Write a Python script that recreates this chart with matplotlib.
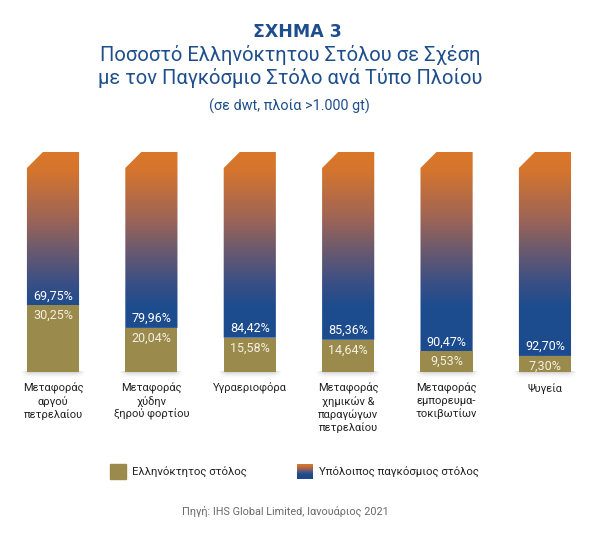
import numpy as np
import matplotlib
matplotlib.use("Agg")
import matplotlib.pyplot as plt
from matplotlib.colors import LinearSegmentedColormap
from matplotlib.patches import Polygon, Rectangle

plt.rcParams['font.family'] = ['Roboto', 'DejaVu Sans']

# data
categories = ['Μεταφοράς\nαργού\nπετρελαίου', 'Μεταφοράς\nχύδην\nξηρού φορτίου', 'Υγραεριοφόρα',
              'Μεταφοράς\nχημικών &\nπαραγώγων\nπετρελαίου', 'Μεταφοράς\nεμπορευμα-\nτοκιβωτίων', 'Ψυγεία']
greek = [30.25, 20.04, 15.58, 14.64, 9.53, 7.30]
rest = [69.75, 79.96, 84.42, 85.36, 90.47, 92.70]
legend_labels = ['Ελληνόκτητος στόλος', 'Υπόλοιπος παγκόσμιος στόλος']

gold = '#9A8A4C'
title_blue = '#1F4E8C'
grad = LinearSegmentedColormap.from_list('fleet', [
    (0.0, '#1B4B8E'), (0.295, '#1D4C8E'), (0.405, '#3A4F85'), (0.555, '#6B5A6E'),
    (0.705, '#A06555'), (0.92, '#D5752D'), (1.0, '#DA772A')])

W, H = 598, 540
fig = plt.figure(figsize=(W / 100, H / 100), dpi=100)

# bar area: 100% at y=152px, 0% at y=372px
ax = fig.add_axes([0, (H - 372) / H, 1, 220 / H])
xlim = (-0.5386, 5.539)
ax.set_xlim(*xlim)
ax.set_ylim(0, 100)
ax.axis('off')

x = np.arange(len(categories))
w = 0.53
px_x = W / (xlim[1] - xlim[0])
px_y = 220 / 100
cx, cy = 16 / px_x, 16 / px_y  # chamfer size

gbars = ax.bar(x, greek, width=w, color=gold, zorder=2)
rbars = ax.bar(x, rest, bottom=greek, width=w, color='none', zorder=1)

ramp = np.linspace(0, 1, 256).reshape(-1, 1)
for r in rbars:
    x0, y0 = r.get_x(), r.get_y()
    x1, y1 = x0 + r.get_width(), y0 + r.get_height()
    poly = Polygon([(x0, y0), (x0, y1 - cy), (x0 + cx, y1), (x1, y1), (x1, y0)],
                   closed=True, facecolor='none', edgecolor='none')
    ax.add_patch(poly)
    im = ax.imshow(ramp, cmap=grad, origin='lower', aspect='auto',
                   extent=(xlim[0], xlim[1], 0, 100), zorder=1,
                   interpolation='bilinear')
    im.set_clip_path(poly)

# soft shadow under the bars
sh_h, sh_w = 40, 80
yy = np.linspace(0, 1, sh_h).reshape(-1, 1)
xx = np.linspace(-1, 1, sh_w).reshape(1, -1)
alpha = 0.35 * (1 - yy) ** 2 * np.clip((1 - np.abs(xx)) * 4, 0, 1)
shadow = np.zeros((sh_h, sh_w, 4))
shadow[..., :3] = 0.35
shadow[..., 3] = alpha
for b in gbars:
    x0 = b.get_x()
    ax.imshow(shadow, extent=(x0 - 0.06, x0 + b.get_width() + 0.06, -3.2, 0),
              aspect='auto', zorder=0, clip_on=False, interpolation='bilinear')
ax.set_xlim(*xlim)
ax.set_ylim(0, 100)

fmt = lambda v: f'{v:.2f}'.replace('.', ',') + '%'
for i in x:
    ax.text(i, greek[i] + 4.2, fmt(rest[i]), ha='center', va='center',
            color='white', fontsize=9, zorder=3)
    ax.text(i, greek[i] - 4.6, fmt(greek[i]), ha='center', va='center',
            color='#F4F0E2', fontsize=9, zorder=3)
    ax.text(i, -5.0, categories[i], ha='center', va='top', color='#222222',
            fontsize=8, linespacing=1.22, clip_on=False)

# titles
cxt = 290 / W
fig.text(297 / W, 1 - 32 / H, 'ΣΧΗΜΑ 3', ha='center', va='center',
         fontsize=12.5, fontweight='bold', color=title_blue, family='DejaVu Sans')
fig.text(cxt, 1 - 55 / H, 'Ποσοστό Ελληνόκτητου Στόλου σε Σχέση', ha='center',
         va='center', fontsize=14.5, color=title_blue)
fig.text(cxt, 1 - 78 / H, 'με τον Παγκόσμιο Στόλο ανά Τύπο Πλοίου', ha='center',
         va='center', fontsize=14.5, color=title_blue)
fig.text(289 / W, 1 - 106 / H, '(σε dwt, πλοία >1.000 gt)', ha='center',
         va='center', fontsize=10.4, color=title_blue)

# legend
fig.add_artist(Rectangle((110 / W, 1 - 479 / H), 16 / W, 15 / H,
                         transform=fig.transFigure, color=gold))
fig.text(132 / W, 1 - 472 / H, legend_labels[0], ha='left', va='center',
         fontsize=8.2, color='#222222')
lax = fig.add_axes([297 / W, 1 - 479 / H, 16 / W, 15 / H])
lax.imshow(ramp, cmap=grad, origin='lower', aspect='auto')
lax.axis('off')
fig.text(319 / W, 1 - 472 / H, legend_labels[1], ha='left', va='center',
         fontsize=8.2, color='#222222')

fig.text(285 / W, 1 - 511 / H, 'Πηγή: IHS Global Limited, Ιανουάριος 2021',
         ha='center', va='center', fontsize=7.8, color='#6A6A6A')

fig.savefig('out.png', dpi=100)
